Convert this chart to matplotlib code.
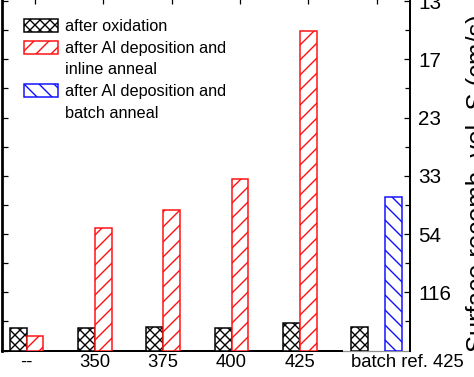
import numpy as np
import matplotlib
matplotlib.use("Agg")
import matplotlib.pyplot as plt
from matplotlib.patches import Rectangle

# ---- data (left axis: effective lifetime, arbitrary units) ----
categories = ["--", "350", "375", "400", "425", "batch ref. 425"]
after_oxidation = [0.77, 0.78, 0.81, 0.77, 0.95, 0.82]
after_inline_anneal = [0.50, 4.22, 4.82, 5.89, 10.98]
after_batch_anneal = [5.28]
s_tick_values = [2, 4, 6, 8, 10, 12]
s_tick_labels = ["116", "54", "33", "23", "17", "13"]
legend_labels = ["after oxidation", "after Al deposition and", "inline anneal",
                 "after Al deposition and", "batch anneal"]

DPI = 90
plt.rcParams['font.family'] = ['Liberation Sans', 'DejaVu Sans']
plt.rcParams['hatch.linewidth'] = 1.1

fig = plt.figure(figsize=(474 / DPI, 377 / DPI), dpi=DPI)
ax = fig.add_axes([1.5 / 474, 26.5 / 377, 408.5 / 474, 352.4 / 377])

w = 0.245
x = np.arange(len(categories))
n_inline = len(after_inline_anneal)

b_ox = ax.bar(x - w, after_oxidation, width=w, align='center', facecolor='white',
              edgecolor='black', hatch='xxx', linewidth=1.2, zorder=3)
b_in = ax.bar(x[:n_inline], after_inline_anneal, width=w, facecolor='white',
              edgecolor='#ff1010', hatch='//', linewidth=1.2, zorder=3)
b_ba = ax.bar(x[n_inline:] + w, after_batch_anneal, width=w, facecolor='white',
              edgecolor='#1010ff', hatch='\\\\', linewidth=1.2, zorder=3)

ax.set_xlim(-0.49, 5.49)
ax.set_ylim(0, 12.1)

# bottom labels at group centres, batch label shifted right
label_pos = list(x[:n_inline] - w / 2) + [x[n_inline] + 1.85 * w]
ax.set_xticks(label_pos)
ax.set_xticklabels(categories, fontsize=14.8)
ax.tick_params(axis='x', which='major', length=0, pad=2.5, bottom=True, top=False)
ax.set_xticks(x, minor=True)
ax.tick_params(axis='x', which='minor', direction='in', length=4.8, width=1.0,
               top=True, bottom=False, labelbottom=False)

ax.set_yticks(np.arange(0, 13))
ax.tick_params(axis='y', which='major', direction='in', length=4.4, width=1.0,
               left=True, right=False, labelleft=False)

for sp in ['bottom', 'right', 'top']:
    ax.spines[sp].set_linewidth(1.6)
ax.spines['left'].set_linewidth(2.2)
ax.spines['bottom'].set_bounds(-0.49, 4.5)
ax.plot([4.5, 5.49], [0, 0], color='#909090', lw=1.0, clip_on=False, zorder=2)

# right axis: surface recombination velocity
ax2 = ax.twinx()
ax2.set_ylim(ax.get_ylim())
ax2.set_yticks(s_tick_values)
ax2.set_yticklabels(s_tick_labels, fontsize=16.5)
ax2.set_yticks([v - 1 for v in s_tick_values], minor=True)
ax2.tick_params(axis='y', which='major', direction='in', length=5, width=1.0, pad=6.5)
ax2.tick_params(axis='y', which='minor', direction='in', length=4, width=1.0)
for sp in ['left', 'bottom', 'right', 'top']:
    ax2.spines[sp].set_visible(False)
ax2.set_ylabel("Surface recomb. vel. S (cm/s)", fontsize=20.5)
ax2.yaxis.set_label_coords(1.137, 0.475)

# legend (second lines as blank entries so handles align with first lines)
blank1 = Rectangle((0, 0), 1, 1, visible=False)
blank2 = Rectangle((0, 0), 1, 1, visible=False)
leg = ax.legend([b_ox, b_in, blank1, b_ba, blank2], legend_labels,
                loc='upper left', bbox_to_anchor=(24 / 474, 1 - 19 / 377),
                bbox_transform=fig.transFigure, frameon=False, fontsize=13,
                handlelength=2.08, handleheight=0.86, handletextpad=0.45,
                labelspacing=0.40, borderpad=0, borderaxespad=0)
leg.set_zorder(5)

fig.savefig("out.png", dpi=DPI)
